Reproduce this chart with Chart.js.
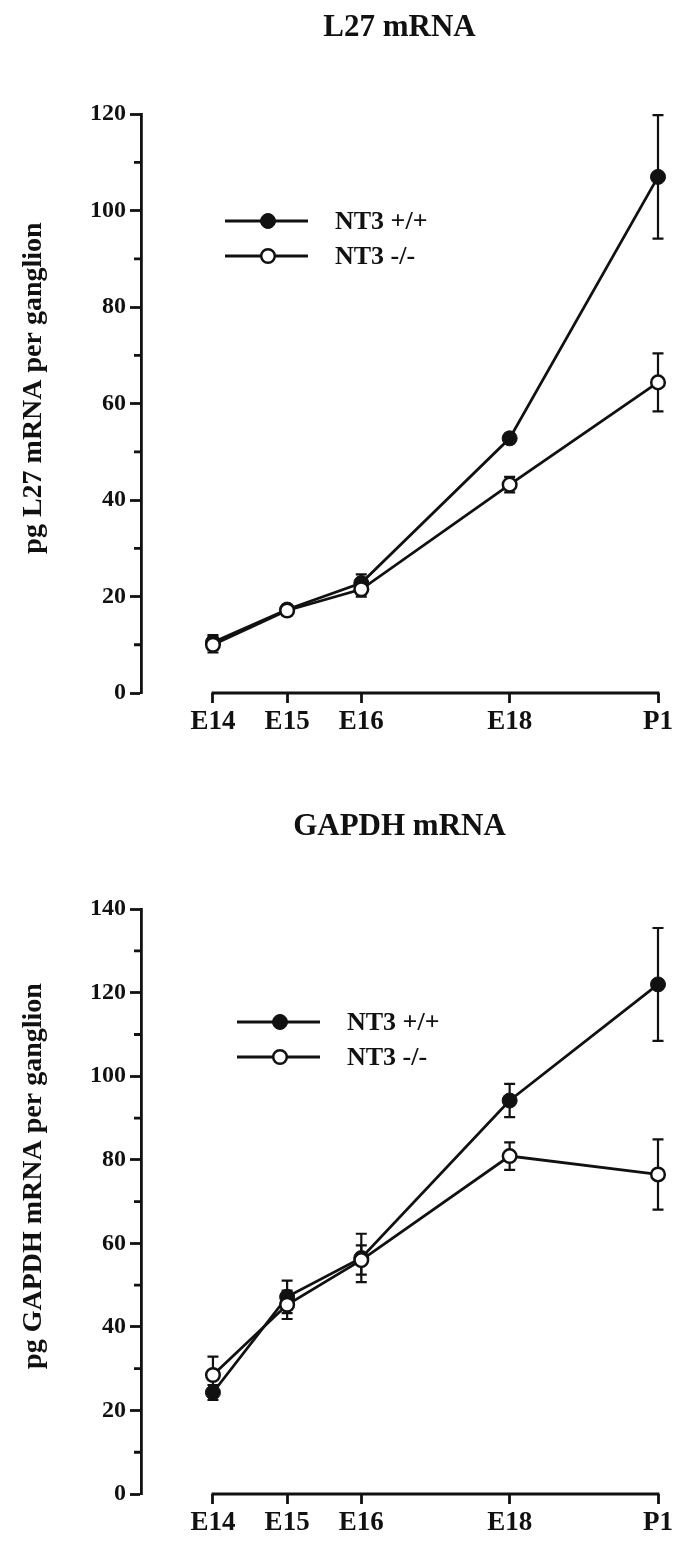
<!DOCTYPE html>
<html>
<head>
<meta charset="utf-8">
<script src="https://cdn.jsdelivr.net/npm/chart.js@4.4.0/dist/chart.umd.min.js"></script>
<style>
  html, body { margin: 0; padding: 0; background: #fff; }
  canvas { display: block; }
</style>
</head>
<body>
<canvas id="l27Chart" width="685" height="770"></canvas>
<canvas id="gapdhChart" width="685" height="771"></canvas>
<script>
// ages on a day scale, P1 sits at ~day 20
const ages = [14, 15, 16, 18, 20];
const ageLabels = ['E14', 'E15', 'E16', 'E18', 'P1'];
const seriesNames = ['NT3 +/+', 'NT3 -/-'];

// L27 mRNA, pg per ganglion (mean, error)
const l27Wt = [10.5, 17.3, 22.8, 52.8, 107];
const l27WtErr = [1.5, 1.0, 1.8, 1.0, 12.8];
const l27Ko = [10.0, 17.1, 21.5, 43.2, 64.4];
const l27KoErr = [1.6, 1.0, 1.5, 1.6, 6.0];

// GAPDH mRNA, pg per ganglion
const gapdhWt = [24.3, 47.2, 56.5, 94.2, 122];
const gapdhWtErr = [1.8, 3.9, 5.8, 4.0, 13.5];
const gapdhKo = [28.5, 45.3, 56.0, 80.9, 76.5];
const gapdhKoErr = [4.4, 3.4, 3.5, 3.3, 8.4];

const ink = '#111';
const serif = '"Liberation Serif", "Times New Roman", serif';

const toPoints = vals => ages.map((a, i) => ({ x: a, y: vals[i] }));

// vertical error bars with caps, drawn under the markers
const errorBars = {
  id: 'errorBars',
  beforeDatasetsDraw(chart) {
    const ctx = chart.ctx;
    const y = chart.scales.y;
    chart.data.datasets.forEach((ds, i) => {
      const meta = chart.getDatasetMeta(i);
      ctx.save();
      ctx.strokeStyle = ink;
      ctx.lineWidth = 2.2;
      meta.data.forEach((pt, j) => {
        const v = ds.data[j].y, e = ds.errors[j];
        const top = y.getPixelForValue(v + e);
        const bot = y.getPixelForValue(v - e);
        ctx.beginPath();
        ctx.moveTo(pt.x, top); ctx.lineTo(pt.x, bot);
        ctx.moveTo(pt.x - 5.5, top); ctx.lineTo(pt.x + 5.5, top);
        ctx.moveTo(pt.x - 5.5, bot); ctx.lineTo(pt.x + 5.5, bot);
        ctx.stroke();
      });
      ctx.restore();
    });
  }
};

// x axis line (only between first and last age), minor y ticks, y title, legend
const decor = {
  id: 'decor',
  afterDraw(chart, args, opts) {
    const ctx = chart.ctx;
    const { x, y } = chart.scales;
    const area = chart.chartArea;
    ctx.save();
    ctx.strokeStyle = ink;
    ctx.lineWidth = 2.8;
    ctx.beginPath();
    ctx.moveTo(x.getPixelForValue(ages[0]) - 1.4, area.bottom);
    ctx.lineTo(x.getPixelForValue(ages[ages.length - 1]) + 1.4, area.bottom);
    for (let v = 10; v < y.max; v += 20) {
      const py = y.getPixelForValue(v);
      ctx.moveTo(area.left - 7, py);
      ctx.lineTo(area.left, py);
    }
    ctx.stroke();

    // rotated y title
    ctx.fillStyle = ink;
    ctx.font = 'bold 28px ' + serif;
    ctx.translate(opts.yTitleX, opts.yTitleY);
    ctx.rotate(-Math.PI / 2);
    ctx.textAlign = 'center';
    ctx.textBaseline = 'alphabetic';
    ctx.fillText(opts.yTitle, 0, 0);
    ctx.restore();

    // legend: line with marker, then label
    ctx.save();
    ctx.font = 'bold 26px ' + serif;
    ctx.textBaseline = 'middle';
    chart.data.datasets.forEach((ds, i) => {
      const ly = opts.legendY + i * 35;
      const lx = opts.legendX;
      ctx.strokeStyle = ink;
      ctx.lineWidth = 2.8;
      ctx.beginPath();
      ctx.moveTo(lx, ly); ctx.lineTo(lx + 83, ly);
      ctx.stroke();
      ctx.beginPath();
      ctx.arc(lx + 43, ly, ds.pointRadius, 0, Math.PI * 2);
      ctx.fillStyle = ds.pointBackgroundColor;
      ctx.fill();
      ctx.lineWidth = ds.pointBorderWidth;
      ctx.stroke();
      ctx.fillStyle = ink;
      ctx.fillText(ds.label, lx + 110, ly + 1);
    });
    ctx.restore();
  }
};

function makeChart(id, cfg) {
  return new Chart(document.getElementById(id), {
    type: 'line',
    data: {
      datasets: [
        {
          label: seriesNames[0], data: toPoints(cfg.wt), errors: cfg.wtErr,
          borderColor: ink, borderWidth: 2.8, pointRadius: 7.5,
          pointBackgroundColor: ink, pointBorderColor: ink, pointBorderWidth: 1,
          order: 1, clip: false
        },
        {
          label: seriesNames[1], data: toPoints(cfg.ko), errors: cfg.koErr,
          borderColor: ink, borderWidth: 2.8, pointRadius: 6.8,
          pointBackgroundColor: '#fff', pointBorderColor: ink, pointBorderWidth: 2.5,
          order: 0, clip: false
        }
      ]
    },
    options: {
      responsive: false,
      animation: false,
      events: [],
      layout: { padding: { left: 0, right: 27, top: 0, bottom: 0 } },
      plugins: {
        legend: { display: false },
        tooltip: { enabled: false },
        title: {
          display: true, text: cfg.title, fullSize: false, color: ink,
          font: { family: serif, size: 31, weight: 'bold' },
          padding: cfg.titlePad
        },
        decor: cfg.decor
      },
      scales: {
        x: {
          type: 'linear', min: 13.03, max: 20,
          afterBuildTicks: s => { s.ticks = ages.map(v => ({ value: v })); },
          afterFit: s => { s.height = cfg.xHeight; },
          border: { display: false },
          grid: { drawOnChartArea: false, tickLength: 10, tickWidth: 2.8, color: ink },
          ticks: {
            callback: v => ageLabels[ages.indexOf(v)],
            color: ink, font: { family: serif, size: 27, weight: 'bold' },
            padding: 3, maxRotation: 0, autoSkip: false
          }
        },
        y: {
          min: 0, max: cfg.yMax,
          afterFit: s => { s.width = 141; },
          border: { display: true, color: ink, width: 2.8 },
          grid: { drawOnChartArea: false, tickLength: 11, tickWidth: 2.8, color: ink },
          ticks: {
            stepSize: 20, color: ink, padding: 4,
            font: { family: serif, size: 24, weight: 'bold' }
          }
        }
      }
    },
    plugins: [errorBars, decor]
  });
}

makeChart('l27Chart', {
  title: 'L27 mRNA', yMax: 120,
  wt: l27Wt, wtErr: l27WtErr, ko: l27Ko, koErr: l27KoErr,
  titlePad: { top: 9, bottom: 68 }, xHeight: 77,
  decor: { yTitle: 'pg L27 mRNA per ganglion', yTitleX: 41, yTitleY: 388, legendX: 225, legendY: 221 }
});

makeChart('gapdhChart', {
  title: 'GAPDH mRNA', yMax: 140,
  wt: gapdhWt, wtErr: gapdhWtErr, ko: gapdhKo, koErr: gapdhKoErr,
  titlePad: { top: 38, bottom: 64 }, xHeight: 47,
  decor: { yTitle: 'pg GAPDH mRNA per ganglion', yTitleX: 41, yTitleY: 406, legendX: 237, legendY: 252 }
});
</script>
</body>
</html>
